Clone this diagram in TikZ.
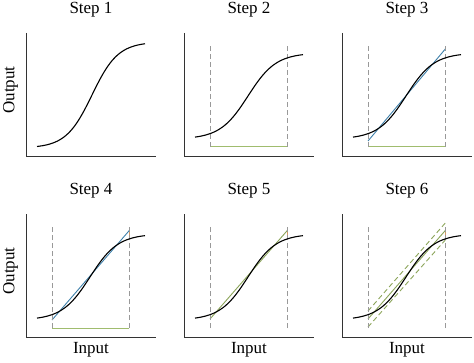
\documentclass[tikz,border=0pt]{standalone}
\usepackage{fontspec}
\setmainfont{Liberation Serif}
\definecolor{fitblue}{RGB}{62,128,170}
\definecolor{fitgreen}{RGB}{140,165,90}
\definecolor{rangegreen}{RGB}{160,188,110}
\definecolor{residorange}{RGB}{215,155,105}
\begin{document}
\begin{tikzpicture}[x=1pt, y=1pt,
                    txt/.style={font=\fontsize{17}{19}\selectfont, inner sep=0pt},
                    axisline/.style={draw=black!80, line width=0.9pt},
                    sigcurve/.style={black, line width=1.1pt},
                    bounds/.style={gray!80, dash pattern=on 5pt off 3pt, line width=0.8pt},
                    rangeline/.style={rangegreen, line width=1pt},
                    fitline/.style={line width=0.9pt},
                    resid/.style={residorange, line width=0.9pt}]
  \useasboundingbox (0,0) rectangle (474,362);

  \foreach \n/\px/\py in {1/26/206, 2/184/206, 3/342/206, 4/26/25, 5/184/25, 6/342/25} {
    \begin{scope}[shift={(\px,\py)}]
      \draw[axisline] (0,123) -- (0,0) -- (130,0);
      \node[txt, anchor=base] (step\n) at (65,142.5) {Step \n};
    \end{scope}
  }

  \node[txt, rotate=90] (out1) at (10.5,272) {Output};
  \node[txt, rotate=90] (out2) at (10.5,91) {Output};
  \node[txt] (in1) at (91,12) {Input};
  \node[txt] (in2) at (249,12) {Input};
  \node[txt] (in3) at (407,12) {Input};

  \foreach \px/\py in {184/206, 342/206, 26/25} {
    \draw[rangeline, shift={(\px,\py)}] (26,9) -- (103.3,9);
  }

  \begin{scope}[shift={(342,206)}]
    \draw[fitline, fitblue] (26,15) -- (103.3,107);
  \end{scope}
  \begin{scope}[shift={(26,25)}]
    \draw[fitline, fitblue] (26,17) -- (103.3,106.5);
    \draw[resid] (103.3,106.5) -- (103.3,98.5);
  \end{scope}
  \begin{scope}[shift={(184,25)}]
    \draw[fitline, fitgreen] (26,18) -- (103.3,106.5);
    \draw[resid] (103.3,106.5) -- (103.3,98.5);
  \end{scope}
  \begin{scope}[shift={(342,25)}]
    \draw[fitline, fitgreen] (26,18) -- (103.3,106.5);
    \draw[fitline, fitgreen, dash pattern=on 5pt off 3pt] (26,26) -- (103.3,114)
                                                         (26,10) -- (103.3,97);
    \draw[resid] (103.3,110) -- (103.3,98.5);
  \end{scope}

  \begin{scope}[shift={(26,206)}]
    \draw[sigcurve] plot[domain=11:119, samples=60, smooth] (\x, {8+106/(1+exp(-(\x-66)/13))});
  \end{scope}
  \foreach \px/\py in {184/206, 342/206, 26/25, 184/25, 342/25} {
    \begin{scope}[shift={(\px,\py)}]
      \draw[bounds] (26,9) -- (26,110.5) (103.3,9) -- (103.3,110.5);
      \draw[sigcurve] plot[domain=11:119, samples=60, smooth] (\x, {17+86/(1+exp(-(\x-64)/14))});
    \end{scope}
  }
\end{tikzpicture}
\end{document}
